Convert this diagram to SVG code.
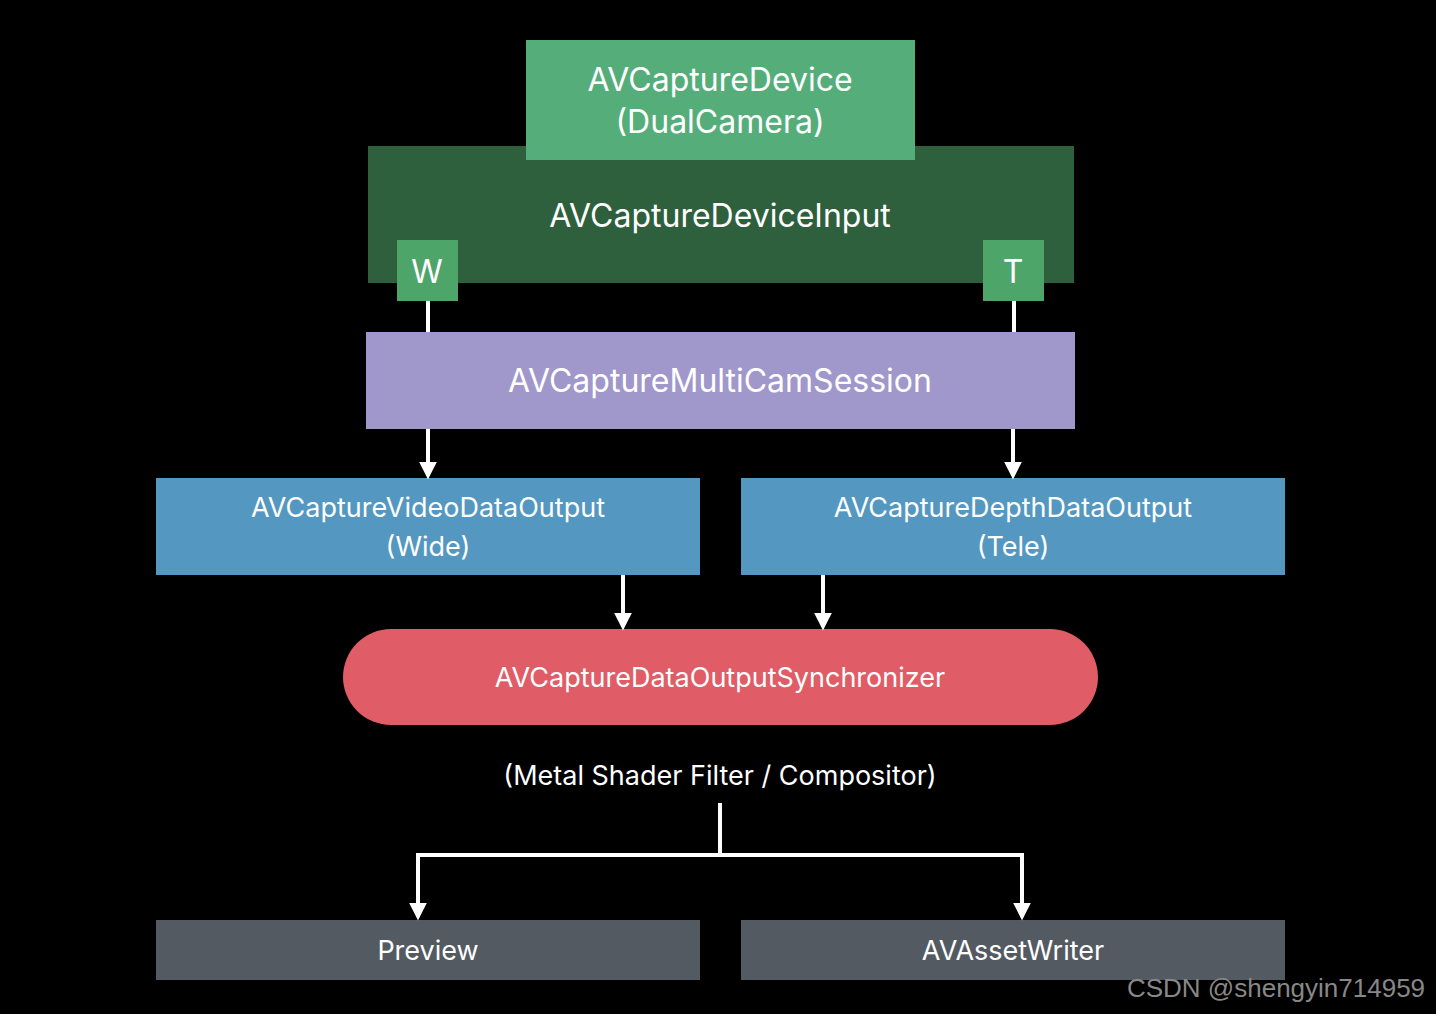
<svg xmlns="http://www.w3.org/2000/svg" width="1436" height="1014" viewBox="0 0 1436 1014">
<defs>
<style>
text{font-family:Inter,"Open Sans",sans-serif;fill:#fff;text-anchor:middle}
.big{font-size:32px}.mid{font-size:27px}
.ln{stroke:#fff;stroke-width:4;fill:none}
</style>
<marker id="ah" viewBox="0 0 10 10" refX="8" refY="5" markerWidth="4.5" markerHeight="4.5" orient="auto" markerUnits="strokeWidth"><path d="M0,0L10,5L0,10z" fill="#fff"/></marker>
</defs>
<rect width="1436" height="1014" fill="#000"/>
<g id="input"><rect x="368" y="146" width="706" height="137" fill="#2f603e"/><text class="big" x="720" y="227">AVCaptureDeviceInput</text></g>
<g id="device"><rect x="526" y="40" width="389" height="120" fill="#55ae7a"/><text class="big" x="720" y="91">AVCaptureDevice</text><text class="big" x="720" y="133">(DualCamera)</text></g>
<g id="w"><rect x="397" y="240" width="61" height="61" fill="#4ea56a"/><text class="big" x="427" y="283">W</text></g>
<g id="t"><rect x="983" y="240" width="61" height="61" fill="#4ea56a"/><text class="big" x="1013" y="283">T</text></g>
<g id="session"><rect x="366" y="332" width="709" height="97" fill="#a097cb"/><text class="big" x="720" y="392">AVCaptureMultiCamSession</text></g>
<g id="video"><rect x="156" y="478" width="544" height="97" fill="#5497c1"/><text class="mid" x="428" y="517">AVCaptureVideoDataOutput</text><text class="mid" x="428" y="556">(Wide)</text></g>
<g id="depth"><rect x="741" y="478" width="544" height="97" fill="#5497c1"/><text class="mid" x="1013" y="517">AVCaptureDepthDataOutput</text><text class="mid" x="1013" y="556">(Tele)</text></g>
<g id="sync"><rect x="343" y="629" width="755" height="96" rx="48" fill="#e05c66"/><text class="mid" x="720" y="687">AVCaptureDataOutputSynchronizer</text></g>
<g id="metal"><text class="mid" x="720" y="785">(Metal Shader Filter / Compositor)</text></g>
<g id="preview"><rect x="156" y="920" width="544" height="60" fill="#535a61"/><text class="mid" x="428" y="960">Preview</text></g>
<g id="writer"><rect x="741" y="920" width="544" height="60" fill="#535a61"/><text class="mid" x="1013" y="960">AVAssetWriter</text></g>
<g id="connectors">
<line class="ln" x1="428" y1="301" x2="428" y2="332"/>
<line class="ln" x1="1014" y1="301" x2="1014" y2="332"/>
<line class="ln" x1="428" y1="429" x2="428" y2="476" marker-end="url(#ah)"/>
<line class="ln" x1="1013" y1="429" x2="1013" y2="476" marker-end="url(#ah)"/>
<line class="ln" x1="623" y1="575" x2="623" y2="627" marker-end="url(#ah)"/>
<line class="ln" x1="823" y1="575" x2="823" y2="627" marker-end="url(#ah)"/>
<path class="ln" d="M720,803V855H418V917" marker-end="url(#ah)"/>
<path class="ln" d="M720,855H1022V917" marker-end="url(#ah)"/>
</g>
<text x="1276" y="997" style="font-family:'Liberation Sans',sans-serif;font-size:26px;fill:#888">CSDN @shengyin714959</text>
</svg>
